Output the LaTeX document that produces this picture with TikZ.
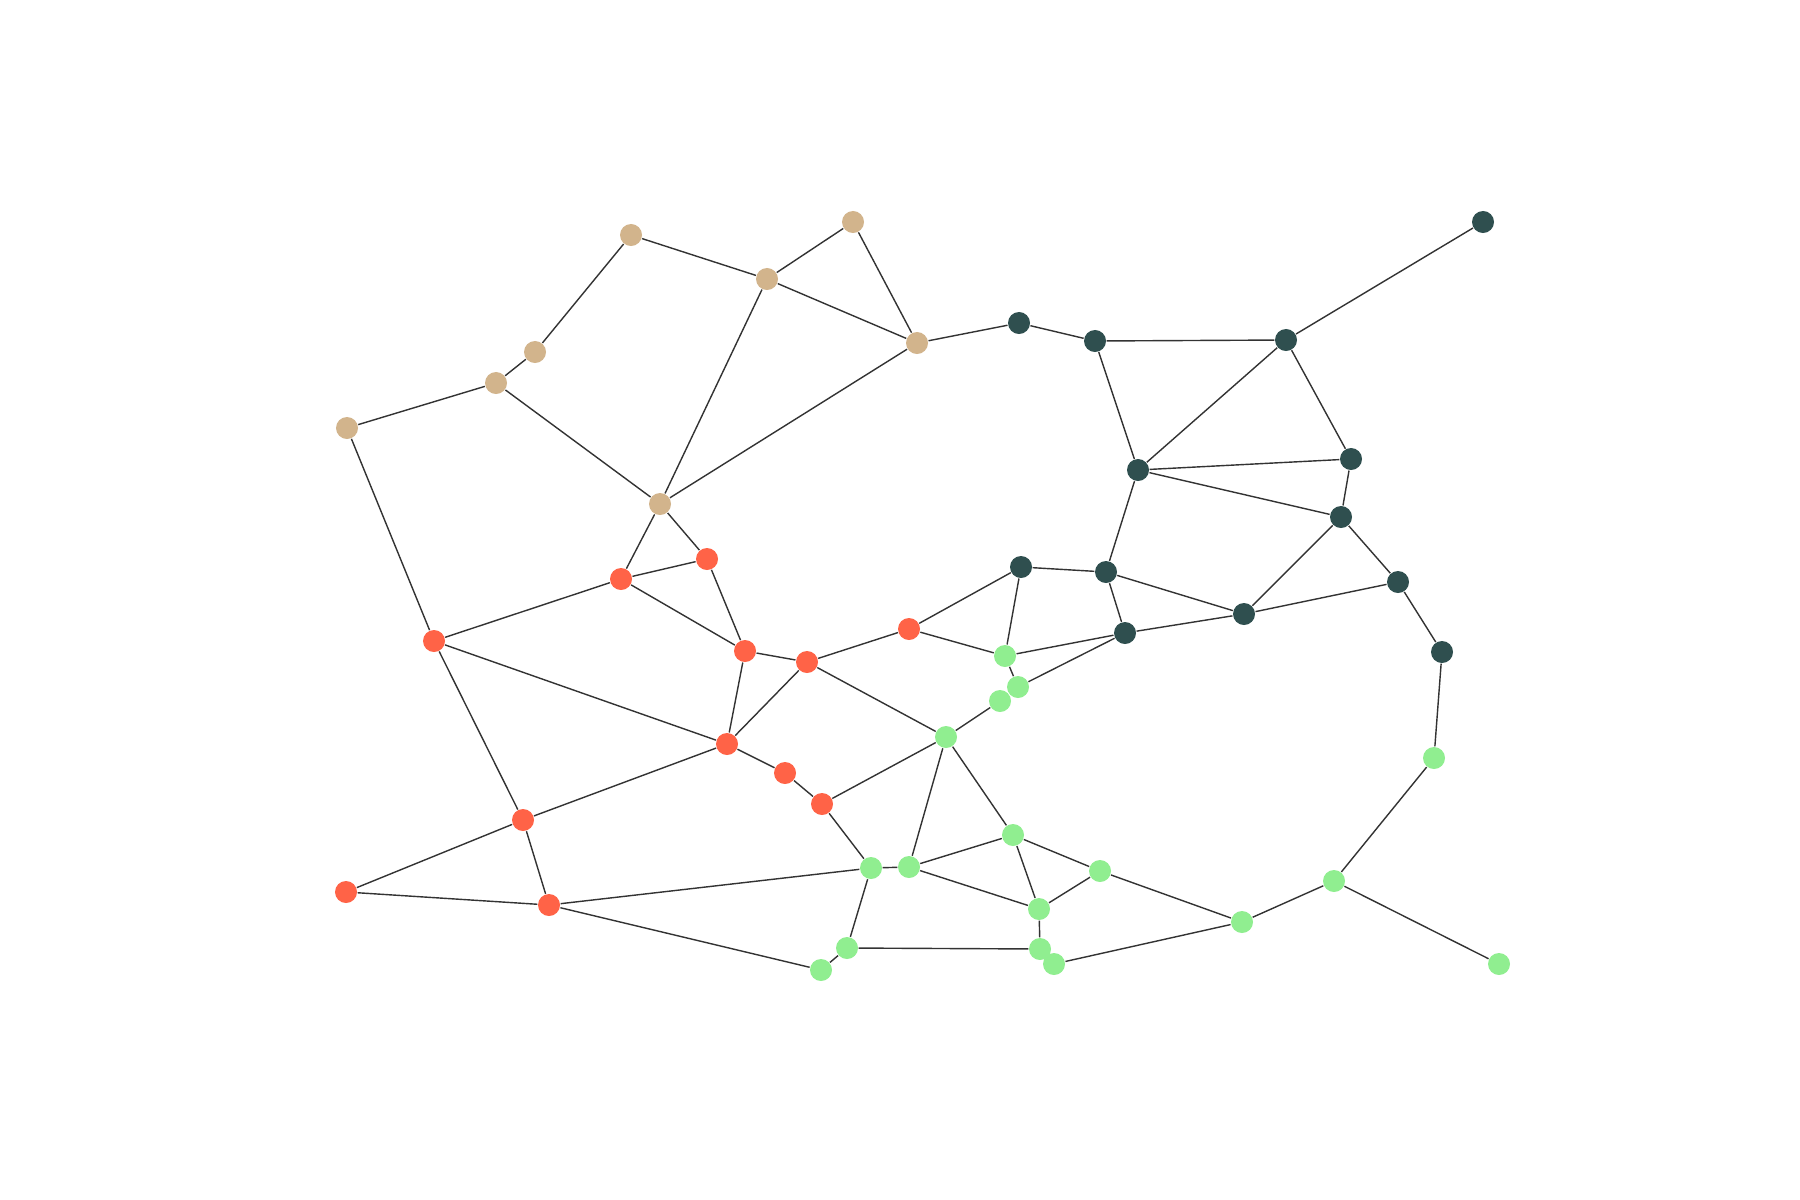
\documentclass[tikz,border=0pt]{standalone}
\usepackage{tikz}
\usetikzlibrary{positioning}
\definecolor{Tan}{HTML}{D2B48C}
\definecolor{Slate}{HTML}{2F4F4F}
\definecolor{Tomato}{HTML}{FF6347}
\definecolor{Leaf}{HTML}{90EE90}
\definecolor{Wire}{HTML}{333333}
\tikzset{
  dot/.style={circle,minimum size=2.2mm,inner sep=0pt,draw=none},
  tandot/.style={dot,fill=Tan},
  slatedot/.style={dot,fill=Slate},
  tomatodot/.style={dot,fill=Tomato},
  leafdot/.style={dot,fill=Leaf},
  link/.style={draw=Wire,line width=0.4pt},
}
\begin{document}
\begin{tikzpicture}[x=0.01cm,y=-0.01cm]
    \useasboundingbox (0,0) rectangle (1800,1200);

    \node[tandot] (t1) at (631,235) {};
    \node[tandot] (t2) at (853,222) {};
    \node[tandot] (t3) at (767,279) {};
    \node[tandot] (t4) at (917,343) {};
    \node[tandot] (t5) at (535,352) {};
    \node[tandot] (t6) at (496,383) {};
    \node[tandot] (t7) at (347,428) {};
    \node[tandot] (t8) at (660,504) {};

    \node[slatedot] (s1) at (1483,222) {};
    \node[slatedot] (s2) at (1019,323) {};
    \node[slatedot] (s3) at (1095,341) {};
    \node[slatedot] (s4) at (1286,340) {};
    \node[slatedot] (s5) at (1138,470) {};
    \node[slatedot] (s6) at (1351,459) {};
    \node[slatedot] (s7) at (1341,517) {};
    \node[slatedot] (s8) at (1021,567) {};
    \node[slatedot] (s9) at (1106,572) {};
    \node[slatedot] (s10) at (1244,614) {};
    \node[slatedot] (s11) at (1398,582) {};
    \node[slatedot] (s12) at (1125,633) {};
    \node[slatedot] (s13) at (1442,652) {};

    \node[tomatodot] (r1) at (621,579) {};
    \node[tomatodot] (r2) at (707,559) {};
    \node[tomatodot] (r3) at (434,641) {};
    \node[tomatodot] (r4) at (745,651) {};
    \node[tomatodot] (r5) at (807,662) {};
    \node[tomatodot] (r6) at (909,629) {};
    \node[tomatodot] (r7) at (727,744) {};
    \node[tomatodot] (r8) at (785,773) {};
    \node[tomatodot] (r9) at (822,804) {};
    \node[tomatodot] (r10) at (523,820) {};
    \node[tomatodot] (r11) at (346,892) {};
    \node[tomatodot] (r12) at (549,905) {};

    \node[leafdot] (g1) at (1005,656) {};
    \node[leafdot] (g2) at (1018,687) {};
    \node[leafdot] (g3) at (1000,701) {};
    \node[leafdot] (g4) at (946,737) {};
    \node[leafdot] (g5) at (1013,835) {};
    \node[leafdot] (g6) at (871,868) {};
    \node[leafdot] (g7) at (909,867) {};
    \node[leafdot] (g8) at (1100,871) {};
    \node[leafdot] (g9) at (1039,909) {};
    \node[leafdot] (g10) at (1242,922) {};
    \node[leafdot] (g11) at (1334,881) {};
    \node[leafdot] (g12) at (1434,758) {};
    \node[leafdot] (g13) at (847,948) {};
    \node[leafdot] (g14) at (821,970) {};
    \node[leafdot] (g15) at (1040,949) {};
    \node[leafdot] (g16) at (1054,964) {};
    \node[leafdot] (g17) at (1499,964) {};

    % tan part
    \draw[link] (t1) -- (t3);
    \draw[link] (t1) -- (t5);
    \draw[link] (t2) -- (t3);
    \draw[link] (t2) -- (t4);
    \draw[link] (t3) -- (t4);
    \draw[link] (t3) -- (t8);
    \draw[link] (t5) -- (t6);
    \draw[link] (t6) -- (t7);
    \draw[link] (t6) -- (t8);
    \draw[link] (t4) -- (t8);
    \draw[link] (t4) -- (s2);
    \draw[link] (t7) -- (r3);
    \draw[link] (t8) -- (r1);
    \draw[link] (t8) -- (r2);

    % slate part
    \draw[link] (s2) -- (s3);
    \draw[link] (s3) -- (s4);
    \draw[link] (s3) -- (s5);
    \draw[link] (s4) -- (s1);
    \draw[link] (s4) -- (s5);
    \draw[link] (s4) -- (s6);
    \draw[link] (s5) -- (s6);
    \draw[link] (s5) -- (s7);
    \draw[link] (s6) -- (s7);
    \draw[link] (s5) -- (s9);
    \draw[link] (s7) -- (s10);
    \draw[link] (s7) -- (s11);
    \draw[link] (s11) -- (s13);
    \draw[link] (s11) -- (s10);
    \draw[link] (s9) -- (s10);
    \draw[link] (s8) -- (s9);
    \draw[link] (s9) -- (s12);
    \draw[link] (s12) -- (s10);
    \draw[link] (s8) -- (r6);
    \draw[link] (s8) -- (g1);
    \draw[link] (s12) -- (g1);
    \draw[link] (s12) -- (g2);
    \draw[link] (s13) -- (g12);

    % tomato part
    \draw[link] (r1) -- (r2);
    \draw[link] (r1) -- (r3);
    \draw[link] (r1) -- (r4);
    \draw[link] (r2) -- (r4);
    \draw[link] (r3) -- (r7);
    \draw[link] (r3) -- (r10);
    \draw[link] (r4) -- (r5);
    \draw[link] (r4) -- (r7);
    \draw[link] (r5) -- (r7);
    \draw[link] (r5) -- (r6);
    \draw[link] (r5) -- (g4);
    \draw[link] (r6) -- (g1);
    \draw[link] (r7) -- (r8);
    \draw[link] (r8) -- (r9);
    \draw[link] (r9) -- (g4);
    \draw[link] (r9) -- (g6);
    \draw[link] (r7) -- (r10);
    \draw[link] (r10) -- (r11);
    \draw[link] (r10) -- (r12);
    \draw[link] (r11) -- (r12);
    \draw[link] (r12) -- (g6);
    \draw[link] (r12) -- (g14);

    % leaf part
    \draw[link] (g1) -- (g2);
    \draw[link] (g3) -- (g4);
    \draw[link] (g4) -- (g5);
    \draw[link] (g4) -- (g7);
    \draw[link] (g5) -- (g7);
    \draw[link] (g5) -- (g8);
    \draw[link] (g5) -- (g9);
    \draw[link] (g6) -- (g7);
    \draw[link] (g6) -- (g13);
    \draw[link] (g7) -- (g9);
    \draw[link] (g8) -- (g9);
    \draw[link] (g8) -- (g10);
    \draw[link] (g9) -- (g15);
    \draw[link] (g13) -- (g14);
    \draw[link] (g13) -- (g15);
    \draw[link] (g16) -- (g10);
    \draw[link] (g10) -- (g11);
    \draw[link] (g11) -- (g12);
    \draw[link] (g11) -- (g17);
\end{tikzpicture}
\end{document}
